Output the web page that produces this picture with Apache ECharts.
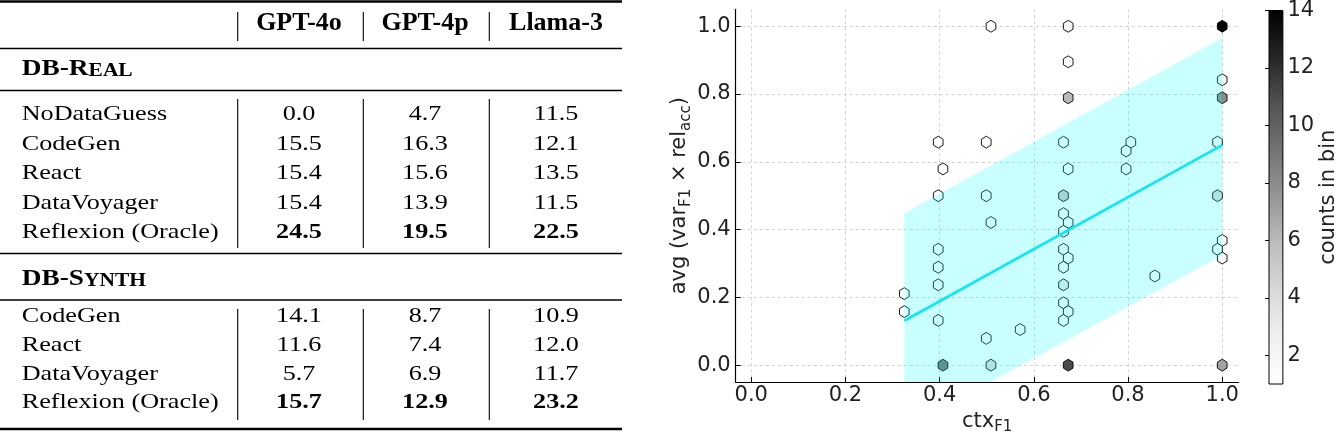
<!DOCTYPE html>
<html><head><meta charset="utf-8">
<script src="https://cdn.jsdelivr.net/npm/echarts@6/dist/echarts.min.js"></script>
<style>html,body{margin:0;padding:0;background:#fff}#c{width:1340px;height:440px}</style>
</head><body><div id="c"></div>
<script>
// ---------------- data ----------------
const models = ['GPT-4o', 'GPT-4p', 'Llama-3'];
const realMethods = ['NoDataGuess', 'CodeGen', 'React', 'DataVoyager', 'Reflexion (Oracle)'];
const realGpt4o = [0.0, 15.5, 15.4, 15.4, 24.5];
const realGpt4p = [4.7, 16.3, 15.6, 13.9, 19.5];
const realLlama3 = [11.5, 12.1, 13.5, 11.5, 22.5];
const synthMethods = ['CodeGen', 'React', 'DataVoyager', 'Reflexion (Oracle)'];
const synthGpt4o = [14.1, 11.6, 5.7, 15.7];
const synthGpt4p = [8.7, 7.4, 6.9, 12.9];
const synthLlama3 = [10.9, 12.0, 11.7, 23.2];

const hexX = [0.509,0.673,0.673,0.673,1.0,1.0,1.0,
  0.397,0.499,0.663,0.806,0.796,0.990,
  0.407,0.673,0.796,
  0.397,0.499,0.663,0.990,
  0.663,0.509,0.673,0.663,1.0,
  0.397,0.663,0.990,0.673,1.0,
  0.397,0.663,0.857,0.325,0.397,0.663,
  0.663,0.325,0.673,0.397,0.663,
  0.571,0.499,0.407,0.509,0.673,1.0];
const hexY = [1.0,1.0,0.895,0.789,1.0,0.842,0.789,
  0.658,0.658,0.658,0.658,0.632,0.658,
  0.579,0.579,0.579,
  0.500,0.500,0.500,0.500,
  0.447,0.421,0.421,0.395,0.368,
  0.342,0.342,0.342,0.316,0.316,
  0.289,0.289,0.263,0.211,0.237,0.237,
  0.184,0.158,0.158,0.132,0.132,
  0.105,0.079,0.0,0.0,0.0,0.0];
const hexCount = [1,2,1,6,14,2,8,
  1,1,1,1,1,1,
  1,1,1,
  1,1,5,4,
  1,1,1,1,1,
  1,1,1,1,2,
  1,1,1,1,1,3,
  1,1,1,1,1,
  1,1,9,4,11,7];

const fitX = [0.325, 1.0];
const fitY = [0.131, 0.649];
const bandX = [0.325, 1.0];
const bandUpper = [0.448, 0.965];
const bandLower = [-0.188, 0.324];

const xTicks = [0, 0.2, 0.4, 0.6, 0.8, 1.0];
const yTicks = [0, 0.2, 0.4, 0.6, 0.8, 1.0];
const cbTicks = [2, 4, 6, 8, 10, 12, 14];
const countMin = 1, countMax = 14;

// ---------------- styles ----------------
const SANS = 'DejaVu Sans';
const SERIF = '"Liberation Serif"';
const GREYS = ['#ffffff','#f0f0f0','#d9d9d9','#bdbdbd','#969696','#737373','#525252','#252525','#000000'];
const HX = 0.02045 / 2;      // half hex width (data units)
const HY6 = (1 / 19) / 6;    // hexbin sy/6
const TXT = '#222';
const FS = 21;

// ---------------- table (graphic) ----------------
const g = [];
const SX = 1.19;
function T(x, y, text, font, align, sx, rich) {
  const st = {text: text, font: font, fill: '#000', textAlign: align, textVerticalAlign: 'middle', align: align, verticalAlign: 'middle'};
  if (rich) st.rich = rich;
  g.push({type: 'text', x: x, y: y, scaleX: sx || 1, silent: true, style: st});
}
function L(x1, y1, x2, y2, w) {
  g.push({type: 'line', silent: true, shape: {x1: x1, y1: y1, x2: x2, y2: y2}, style: {stroke: '#000', lineWidth: w}});
}
const colC = [299, 425, 556];
const sepX = [237.7, 363.3, 489.3];
const bodyFont = '22px ' + SERIF;
const boldFont = 'bold 22px ' + SERIF;
// rules
L(0, 1.5, 622, 1.5, 2.5);
L(0, 48.5, 622, 48.5, 1.4);
L(0, 90.5, 622, 90.5, 1.4);
L(0, 253.5, 622, 253.5, 1.4);
L(0, 300, 622, 300, 1.4);
L(0, 429, 622, 429, 2.5);
// header
models.forEach((m, i) => T(colC[i], 32 - 8.3, m, 'bold 26px ' + SERIF, 'center'));
sepX.forEach(x => { L(x, 12, x, 41, 1.1); L(x, 99, x, 248, 1.1); L(x, 309, x, 420, 1.1); });
const scRich = {b: {font: 'bold 23px ' + SERIF, fill: '#000'}, s: {font: 'bold 18px ' + SERIF, fill: '#000', verticalAlign: 'bottom'}};
T(21.7, 76.7 - 7.4, '{b|DB-R}{s|EAL}', 'bold 23px ' + SERIF, 'left', SX, scRich);
T(21.7, 286 - 7.4, '{b|DB-S}{s|YNTH}', 'bold 23px ' + SERIF, 'left', SX, scRich);
function section(methods, cols, baseY, step) {
  const maxes = cols.map(c => Math.max.apply(null, c));
  methods.forEach((m, r) => {
    const y = baseY + r * step - 7;
    T(21.7, y, m, bodyFont, 'left', SX);
    cols.forEach((c, ci) => {
      const v = c[r];
      T(colC[ci], y, v.toFixed(1), v === maxes[ci] ? boldFont : bodyFont, 'center', SX);
    });
  });
}
section(realMethods, [realGpt4o, realGpt4p, realLlama3], 121.7, 29.45);
section(synthMethods, [synthGpt4o, synthGpt4p, synthLlama3], 323.5, 28.7);

// ---------------- chart ----------------
const chart = echarts.init(document.getElementById('c'));
const subRich = {
  m: {fontFamily: SANS, fontSize: FS, color: TXT},
  s: {fontFamily: SANS, fontSize: 15, color: TXT, verticalAlign: 'bottom', padding: [12, 0, 0, 0]}
};
const option = {
  animation: false,
  grid: [
    {left: 735.7, top: 9.3, width: 503, height: 374.7},
    {left: 1269, top: 9.3, width: 19.7, height: 374.7}
  ],
  xAxis: [
    {gridIndex: 0, type: 'value', min: -0.033, max: 1.035,
     axisLine: {show: true, onZero: false, lineStyle: {color: '#000', width: 1.2}},
     axisTick: {show: true, inside: true, length: 5, customValues: xTicks, lineStyle: {color: '#000', width: 1}},
     axisLabel: {customValues: xTicks, formatter: v => v.toFixed(1), fontFamily: SANS, fontSize: FS, color: TXT, margin: 3},
     splitLine: {show: true, lineStyle: {color: '#c8c8c8', type: [3, 3], width: 0.8}},
     name: '{m|ctx}{s|F1}', nameLocation: 'middle', nameGap: 22,
     nameTextStyle: {fontFamily: SANS, fontSize: FS, color: TXT, rich: subRich}},
    {gridIndex: 1, type: 'value', min: 0, max: 1, show: false}
  ],
  yAxis: [
    {gridIndex: 0, type: 'value', min: -0.05, max: 1.05,
     axisLine: {show: true, onZero: false, lineStyle: {color: '#000', width: 1.2}},
     axisTick: {show: true, inside: true, length: 5, customValues: yTicks, lineStyle: {color: '#000', width: 1}},
     axisLabel: {customValues: yTicks, formatter: v => v.toFixed(1), fontFamily: SANS, fontSize: FS, color: TXT, margin: 5},
     splitLine: {show: true, lineStyle: {color: '#c8c8c8', type: [3, 3], width: 0.8}},
     name: '{m|avg (var}{s|F1}{m| \u00d7 rel}{s|acc}{m|)}', nameLocation: 'middle', nameGap: 39, nameRotate: 90,
     nameTextStyle: {fontFamily: SANS, fontSize: FS, color: TXT, rich: subRich}},
    {gridIndex: 1, type: 'value', min: countMin, max: countMax, position: 'right',
     axisLine: {show: false},
     axisTick: {show: true, inside: true, length: 4, customValues: cbTicks, lineStyle: {color: '#000', width: 1}},
     axisLabel: {customValues: cbTicks, fontFamily: SANS, fontSize: FS, color: TXT, margin: 4.5},
     splitLine: {show: false},
     name: 'counts in bin', nameLocation: 'middle', nameGap: 31, nameRotate: 90,
     nameTextStyle: {fontFamily: SANS, fontSize: FS, color: TXT}}
  ],
  visualMap: {show: false, type: 'continuous', seriesIndex: 0, dimension: 2, min: countMin, max: countMax,
              inRange: {color: GREYS}},
  series: [
    {type: 'custom', name: 'hexbin', xAxisIndex: 0, yAxisIndex: 0, z: 2, clip: true,
     data: hexX.map((x, i) => [x, hexY[i], hexCount[i]]),
     encode: {x: 0, y: 1},
     renderItem: function (params, api) {
       const x = api.value(0), y = api.value(1);
       const v = [[x, y + 2 * HY6], [x + HX, y + HY6], [x + HX, y - HY6], [x, y - 2 * HY6], [x - HX, y - HY6], [x - HX, y + HY6]];
       return {type: 'polygon', shape: {points: v.map(p => api.coord(p))},
               style: {fill: api.visual('color'), stroke: '#000', lineWidth: 0.9}};
     }},
    {type: 'custom', name: 'band', xAxisIndex: 0, yAxisIndex: 0, z: 3, clip: true, silent: true,
     data: bandX.map((x, i) => [x, bandLower[i], bandUpper[i]]),
     encode: {x: 0, y: [1, 2]},
     renderItem: function (params, api) {
       if (params.dataIndexInside !== 0) return null;
       const n = params.dataInsideLength;
       const up = [], lo = [];
       for (let i = 0; i < n; i++) {
         up.push(api.coord([api.value(0, i), api.value(2, i)]));
         lo.push(api.coord([api.value(0, i), api.value(1, i)]));
       }
       return {type: 'polygon', shape: {points: up.concat(lo.reverse())},
               style: {fill: 'rgba(0,255,255,0.21)', stroke: null}};
     }},
    {type: 'line', name: 'fit', xAxisIndex: 0, yAxisIndex: 0, z: 4, symbol: 'none', silent: true,
     data: fitX.map((x, i) => [x, fitY[i]]),
     lineStyle: {color: '#12e6ee', width: 2.6}},
    {type: 'custom', name: 'colorbar', xAxisIndex: 1, yAxisIndex: 1, z: 2, silent: true,
     data: [[0, countMin, countMax]],
     renderItem: function (params, api) {
       const p1 = api.coord([0, api.value(2)]);
       const p2 = api.coord([1, api.value(1)]);
       const stops = GREYS.map((c, i) => ({offset: 1 - i / (GREYS.length - 1), color: c})).reverse();
       return {type: 'rect', shape: {x: p1[0], y: p1[1], width: p2[0] - p1[0], height: p2[1] - p1[1]},
               style: {fill: new echarts.graphic.LinearGradient(0, 0, 0, 1, stops), stroke: '#000', lineWidth: 1}};
     }}
  ],
  graphic: g
};
chart.setOption(option);
</script></body></html>
